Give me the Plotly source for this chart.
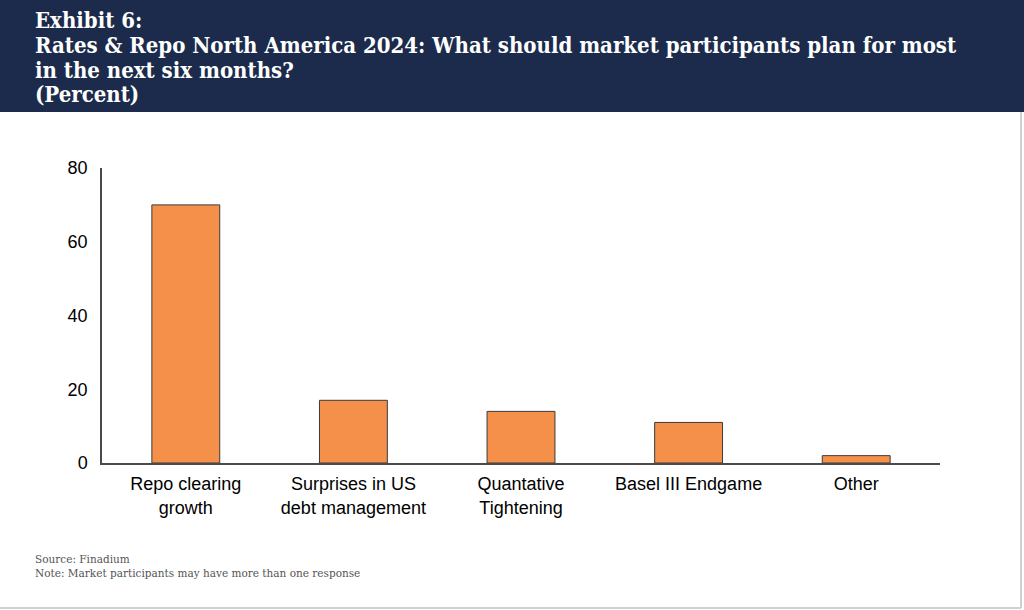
import plotly.graph_objects as go

categories = ["Repo clearing<br>growth", "Surprises in US<br>debt management", "Quantative<br>Tightening",
              "Basel III Endgame", "Other"]
values = [70, 17, 14, 11, 2]
y_ticks = [0, 20, 40, 60, 80]
title_lines = [
    "Exhibit 6:",
    "Rates &amp; Repo North America 2024: What should market participants plan for most",
    "in the next six months?",
    "(Percent)",
]

W, H = 1024, 610
L, R, T, B = 102, 84, 168, 147
PW, PH = W - L - R, H - T - B

def px(x):
    return (x - L) / PW

def py(y):
    return (H - B - y) / PH

NAVY = "#1c2b4b"

fig = go.Figure(go.Bar(
    x=categories, y=values, width=0.405,
    marker=dict(color="#f5904a", line=dict(color="#3a3a3a", width=1)),
))

shapes = [
    dict(type="rect", xref="paper", yref="paper", x0=px(0), x1=px(W), y0=py(112), y1=py(0),
         fillcolor=NAVY, line=dict(width=0), layer="below"),
    dict(type="line", xref="paper", yref="paper", x0=px(1021), x1=px(1021), y0=py(112), y1=py(608),
         line=dict(color="#d0d0d0", width=2)),
    dict(type="line", xref="paper", yref="paper", x0=px(0), x1=px(1021), y0=py(608), y1=py(608),
         line=dict(color="#d0d0d0", width=2)),
]

title_y = [20, 45, 69.5, 94]
annotations = [
    dict(xref="paper", yref="paper", x=px(33), y=py(yy), xanchor="left", yanchor="middle",
         showarrow=False, text=f"<b>{t}</b>",
         font=dict(family="DejaVu Serif Condensed, DejaVu Serif, serif", size=22, color="white"))
    for t, yy in zip(title_lines, title_y)
]
annotations.append(
    dict(xref="paper", yref="paper", x=px(33), y=py(551), xanchor="left", yanchor="top",
         align="left", showarrow=False,
         text="Source: Finadium<br>Note: Market participants may have more than one response",
         font=dict(family="DejaVu Serif, serif", size=10.5, color="#555555"))
)

fig.update_layout(
    width=W, height=H,
    margin=dict(l=L, r=R, t=T, b=B, pad=0),
    paper_bgcolor="white", plot_bgcolor="white",
    showlegend=False,
    shapes=shapes,
    annotations=annotations,
    font=dict(family="Liberation Sans, Arial, sans-serif"),
    xaxis=dict(
        showline=True, linecolor="#4a4a4a", linewidth=1.5, showgrid=False, ticks="",
        tickfont=dict(size=18, color="#000000"), ticklabelstandoff=4,
        range=[-0.5, 4.5],
    ),
    yaxis=dict(
        range=[0, 80], tickvals=y_ticks, showline=True, linecolor="#4a4a4a", linewidth=1.5,
        showgrid=False, zeroline=False, ticks="", ticklabelstandoff=9,
        tickfont=dict(size=18, color="#000000"),
    ),
)

fig.write_html("out.html")
